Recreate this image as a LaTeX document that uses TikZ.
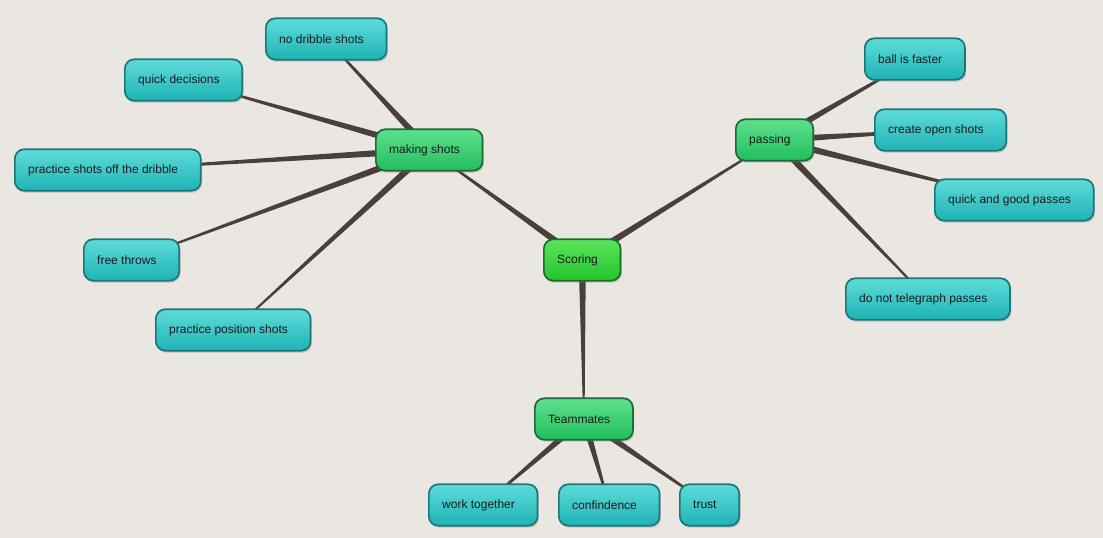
\documentclass[tikz,border=0pt]{standalone}
\usepackage{fontspec}
\setmainfont{Liberation Sans}
\usetikzlibrary{calc,shadows}
\definecolor{bgc}{HTML}{EAE7E3}
\definecolor{linkc}{HTML}{4A3F39}
\definecolor{txt}{HTML}{1A1A1A}
\definecolor{leaft}{HTML}{5EDBDA}
\definecolor{leafb}{HTML}{1FB3B5}
\definecolor{leafd}{HTML}{1D7778}
\definecolor{hubt}{HTML}{5EE08E}
\definecolor{hubb}{HTML}{22BE5C}
\definecolor{hubd}{HTML}{1C6B38}
\definecolor{roott}{HTML}{5CE45C}
\definecolor{rootb}{HTML}{22C42E}
\definecolor{rootd}{HTML}{1D6E25}
\pgfdeclarelayer{bg}
\pgfdeclarelayer{links}
\pgfsetlayers{bg,links,main}
\tikzset{
  box/.style={draw, line width=1.3pt, rounded corners=7pt, minimum height=31pt,
    inner xsep=10pt, anchor=west, text=txt, font=\fontsize{9pt}{11pt}\selectfont,
    drop shadow={shadow xshift=1pt, shadow yshift=-1.5pt, opacity=0.35},
    execute at end node={\hspace*{7pt}}},
  leaf/.style={box, draw=leafd, top color=leaft, bottom color=leafb},
  hub/.style={box, draw=hubd, top color=hubt, bottom color=hubb},
  root/.style={box, draw=rootd, top color=roott, bottom color=rootb}
}
% tapered branch, wide at the parent
\newcommand{\branch}[2]{\fill[linkc] ($(#1)!2.7pt!90:(#2)$) -- ($(#2)!0.5pt!-90:(#1)$)
  -- ($(#2)!0.5pt!90:(#1)$) -- ($(#1)!2.7pt!-90:(#2)$) -- cycle;}
\begin{document}
\begin{tikzpicture}[x=0.75pt,y=-0.75pt]
  \useasboundingbox (0,0) rectangle (1103,538);
  \begin{pgfonlayer}{bg}
    \fill[bgc] (0,0) rectangle (1103,538);
  \end{pgfonlayer}
  % centre
  \node[root] (score) at (543,260) {Scoring};
  % hubs
  \node[hub] (shots) at (375,150) {making shots};
  \node[hub] (pass) at (735,140) {passing};
  \node[hub] (team) at (534,419) {Teammates};
  % making shots
  \node[leaf] (nodrib) at (265,39) {no dribble shots};
  \node[leaf] (quick) at (124,80) {quick decisions};
  \node[leaf] (offdrib) at (14,170) {practice shots off the dribble};
  \node[leaf] (free) at (83,260) {free throws};
  \node[leaf] (posit) at (155,330) {practice position shots};
  % passing
  \node[leaf] (faster) at (864,59) {ball is faster};
  \node[leaf] (open) at (874,130) {create open shots};
  \node[leaf] (good) at (934,200) {quick and good passes};
  \node[leaf] (teleg) at (845,299) {do not telegraph passes};
  % teammates
  \node[leaf] (work) at (428,505) {work together};
  \node[leaf] (conf) at (558,505) {confindence};
  \node[leaf] (trust) at (679,505) {trust};
  % branches
  \begin{pgfonlayer}{links}
    \foreach \p/\c in {score/shots,score/pass,score/team,
        shots/nodrib,shots/quick,shots/offdrib,shots/free,shots/posit,
        pass/faster,pass/open,pass/good,pass/teleg,
        team/work,team/conf,team/trust}
      {\branch{\p}{\c}}
  \end{pgfonlayer}
\end{tikzpicture}
\end{document}
